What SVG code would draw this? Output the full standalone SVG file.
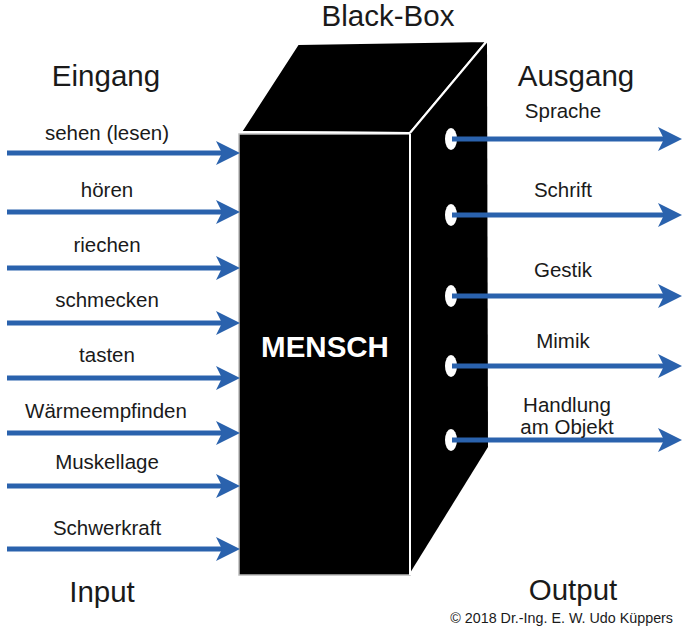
<svg xmlns="http://www.w3.org/2000/svg" width="685" height="639" viewBox="0 0 685 639">
<defs>
<style>
text{font-family:"Liberation Sans",Arial,sans-serif;fill:#1a1a1a}
.h{font-size:29.5px;text-anchor:middle}
.l{font-size:20.5px;text-anchor:middle}
.a{stroke:#2a62ad;stroke-width:5;fill:none}
.ah{fill:#2a62ad}
</style>
<marker id="arr" viewBox="0 0 24 24" refX="8" refY="12" markerWidth="24" markerHeight="24" markerUnits="userSpaceOnUse" orient="auto">
<path d="M0,0 L24,12 L0,24 L6,12 Z" class="ah"/>
</marker>
</defs>
<g id="box">
<polygon points="241,132 298,44 487,41 410,133" fill="#000" stroke="#fff" stroke-width="2"/>
<polygon points="410,133 487,41 488,447 410,573" fill="#000"/>
<rect x="239" y="134" width="171" height="441" fill="#000" stroke="#bbb" stroke-width="1.5"/>
<line x1="410" y1="134" x2="410" y2="575" stroke="#fff" stroke-width="2"/>
<line x1="410" y1="133" x2="487" y2="41" stroke="#fff" stroke-width="2"/>
<line x1="241" y1="132" x2="410" y2="133" stroke="#fff" stroke-width="2"/>
<text x="325" y="357" style="font-size:29.5px;font-weight:bold;fill:#fff;text-anchor:middle">MENSCH</text>
<ellipse cx="451" cy="139" rx="6" ry="11" fill="#fff"/>
<ellipse cx="451" cy="215" rx="6" ry="11" fill="#fff"/>
<ellipse cx="451" cy="296" rx="6" ry="11" fill="#fff"/>
<ellipse cx="451" cy="366" rx="6" ry="11" fill="#fff"/>
<ellipse cx="451" cy="440" rx="6" ry="11" fill="#fff"/>
</g>
<g id="connectors">
<line class="a" x1="7" y1="153" x2="224" y2="153" marker-end="url(#arr)"/>
<line class="a" x1="7" y1="212" x2="224" y2="212" marker-end="url(#arr)"/>
<line class="a" x1="7" y1="268" x2="224" y2="268" marker-end="url(#arr)"/>
<line class="a" x1="7" y1="323" x2="224" y2="323" marker-end="url(#arr)"/>
<line class="a" x1="7" y1="378" x2="224" y2="378" marker-end="url(#arr)"/>
<line class="a" x1="7" y1="433" x2="224" y2="433" marker-end="url(#arr)"/>
<line class="a" x1="7" y1="486" x2="224" y2="486" marker-end="url(#arr)"/>
<line class="a" x1="7" y1="549" x2="224" y2="549" marker-end="url(#arr)"/>
<line class="a" x1="452" y1="139" x2="666" y2="139" marker-end="url(#arr)"/>
<line class="a" x1="452" y1="215" x2="666" y2="215" marker-end="url(#arr)"/>
<line class="a" x1="452" y1="296" x2="666" y2="296" marker-end="url(#arr)"/>
<line class="a" x1="452" y1="366" x2="666" y2="366" marker-end="url(#arr)"/>
<line class="a" x1="452" y1="440" x2="666" y2="440" marker-end="url(#arr)"/>
</g>
<g id="labels">
<text class="h" x="388" y="26">Black-Box</text>
<text class="h" x="106" y="86">Eingang</text>
<text class="h" x="576" y="86">Ausgang</text>
<text class="h" x="102" y="602">Input</text>
<text class="h" x="573" y="600">Output</text>
<text class="l" x="107" y="140">sehen (lesen)</text>
<text class="l" x="107" y="197">hören</text>
<text class="l" x="107" y="252">riechen</text>
<text class="l" x="107" y="307">schmecken</text>
<text class="l" x="107" y="362">tasten</text>
<text class="l" x="106" y="418">Wärmeempfinden</text>
<text class="l" x="107" y="469">Muskellage</text>
<text class="l" x="107" y="535">Schwerkraft</text>
<text class="l" x="563" y="118">Sprache</text>
<text class="l" x="563" y="197">Schrift</text>
<text class="l" x="563" y="277">Gestik</text>
<text class="l" x="563" y="348">Mimik</text>
<text class="l" x="567" y="412">Handlung</text>
<text class="l" x="567" y="434">am Objekt</text>
<text x="673" y="623" style="font-size:14.3px;text-anchor:end">© 2018 Dr.-Ing. E. W. Udo Küppers</text>
</g>
</svg>
